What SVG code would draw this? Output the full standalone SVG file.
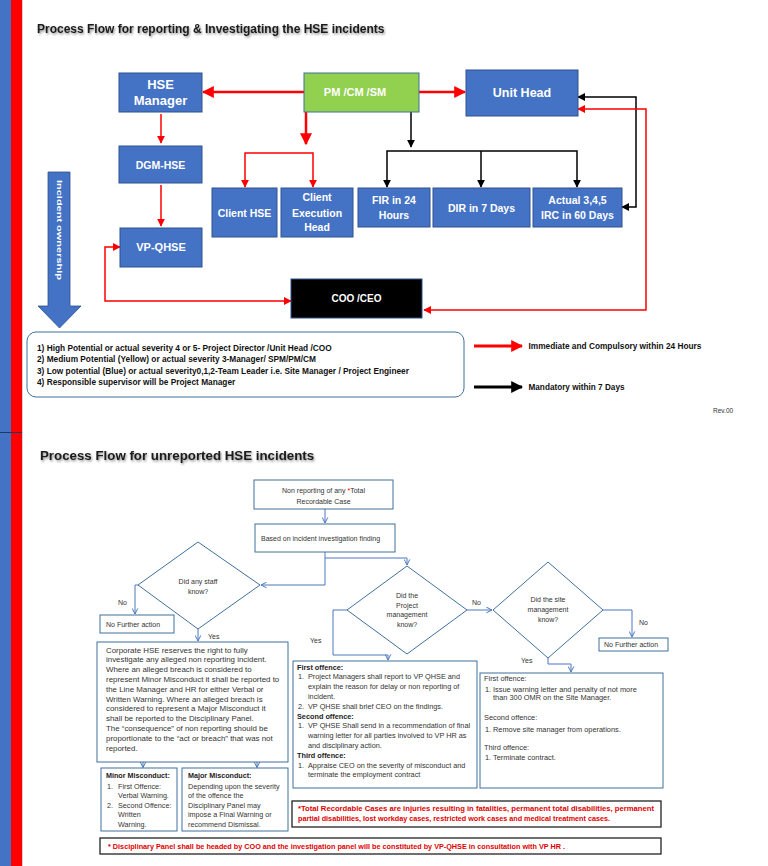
<svg xmlns="http://www.w3.org/2000/svg" width="768" height="866" viewBox="0 0 768 866">
<defs>
<style>
text{font-family:"Liberation Sans",Arial,sans-serif}
.bx{fill:#4472C4;stroke:#2F528F;stroke-width:1}
.bt{fill:#fff;font-weight:bold;text-anchor:middle}
.rl{stroke:#f00;fill:none;stroke-width:1.5}
.rt{stroke:#f00;fill:none;stroke-width:2.5}
.kl{stroke:#000;fill:none;stroke-width:1.5}
.fl{fill:#fff;stroke:#41719C;stroke-width:1}
.cn{fill:none;stroke:#4A76C0;stroke-width:1}
.s7{font-size:7px;fill:#333}
.s7b{font-size:7px;fill:#222;font-weight:bold}
.cp{font-size:7.9px;fill:#333}
.pb{font-size:7.3px;fill:#333}
.pbb{font-size:7.3px;fill:#222;font-weight:bold}
.sb{font-size:7.4px;fill:#333}
.mm{font-size:7.2px;fill:#333}
.mmb{font-size:7.2px;fill:#222;font-weight:bold}
.lg{font-size:8.3px;fill:#111;font-weight:bold}
.mid{text-anchor:middle}
.red{fill:#e00000;font-weight:bold;font-size:6.5px}
</style>
<filter id="sh" x="-5%" y="-30%" width="110%" height="170%"><feDropShadow dx="1" dy="1.5" stdDeviation="0.8" flood-color="#000" flood-opacity="0.45"/></filter>
<marker id="ar" viewBox="0 0 10 10" refX="9" refY="5" markerWidth="8" markerHeight="8" markerUnits="userSpaceOnUse" orient="auto-start-reverse"><path d="M0,0 L10,5 L0,10 z" fill="#f00"/></marker>
<marker id="arL" viewBox="0 0 10 10" refX="9" refY="5" markerWidth="12" markerHeight="12" markerUnits="userSpaceOnUse" orient="auto-start-reverse"><path d="M0,0 L10,5 L0,10 z" fill="#f00"/></marker>
<marker id="ak" viewBox="0 0 10 10" refX="9" refY="5" markerWidth="8" markerHeight="8" markerUnits="userSpaceOnUse" orient="auto-start-reverse"><path d="M0,0 L10,5 L0,10 z" fill="#000"/></marker>
<marker id="akL" viewBox="0 0 10 10" refX="9" refY="5" markerWidth="12" markerHeight="12" markerUnits="userSpaceOnUse" orient="auto-start-reverse"><path d="M0,0 L10,5 L0,10 z" fill="#000"/></marker>
<marker id="bv" viewBox="0 0 10 10" refX="9" refY="5" markerWidth="7" markerHeight="7" markerUnits="userSpaceOnUse" orient="auto"><path d="M1,1 L9,5 L1,9" fill="none" stroke="#4A76C0" stroke-width="1.4"/></marker>
</defs>
<rect width="768" height="866" fill="#fff"/>
<g id="bars">
<rect x="0" y="0" width="11" height="866" fill="#4472C4"/>
<rect x="11" y="0" width="11" height="866" fill="#f00"/>
<line x1="22.5" y1="0" x2="22.5" y2="866" stroke="#d0d0d0" stroke-width="1"/>
<line x1="0" y1="432.5" x2="22" y2="432.5" stroke="#1F3864" stroke-width="1"/>
</g>

<!-- TOP SECTION -->
<text x="37" y="33" font-size="12" font-weight="bold" fill="#1a1a1a" filter="url(#sh)">Process Flow for reporting &amp; Investigating the HSE incidents</text>

<g id="connectors-top">
<line class="rt" x1="304" y1="92" x2="203" y2="92" marker-end="url(#arL)"/>
<line class="rt" x1="419" y1="92" x2="465" y2="92" marker-end="url(#arL)"/>
<line class="rt" x1="306" y1="112" x2="306" y2="144" marker-end="url(#arL)"/>
<path class="rl" d="M245,187 V153 H313 V187" marker-start="url(#ar)" marker-end="url(#ar)"/>
<line class="kl" x1="411" y1="112" x2="411" y2="147" marker-end="url(#ak)"/>
<path class="kl" d="M387,187 V151 H577 V187" marker-start="url(#ak)" marker-end="url(#ak)"/>
<line class="kl" x1="481" y1="151" x2="481" y2="187" marker-end="url(#ak)"/>
<path class="kl" d="M622,207 H636 V97 H578" marker-start="url(#ak)" marker-end="url(#ak)"/>
<path class="rl" d="M578,109 H646 V310 H424" marker-start="url(#ar)" marker-end="url(#ar)"/>
<line class="rl" x1="161" y1="114" x2="161" y2="143" marker-end="url(#ar)"/>
<line class="rl" x1="161" y1="185" x2="161" y2="226" marker-end="url(#ar)"/>
<path class="rl" d="M120,247 H105 V301 H291" marker-start="url(#ar)" marker-end="url(#ar)"/>
</g>

<g id="hse-manager"><rect class="bx" x="119" y="73" width="83" height="39"/><text class="bt" x="160.5" y="89" font-size="13">HSE</text><text class="bt" x="160.5" y="105" font-size="13">Manager</text></g>
<g id="pm"><rect x="304" y="73" width="115" height="39" fill="#92D050" stroke="#41719C" stroke-width="1"/><text class="bt" x="355" y="96" font-size="11">PM /CM /SM</text></g>
<g id="unit-head"><rect class="bx" x="466" y="70" width="112" height="46"/><text class="bt" x="522" y="97" font-size="12.5">Unit Head</text></g>
<g id="dgm-hse"><rect class="bx" x="119" y="146" width="83" height="37"/><text class="bt" x="160.5" y="168.5" font-size="10.5">DGM-HSE</text></g>
<g id="vp-qhse"><rect class="bx" x="120" y="228" width="82" height="39"/><text class="bt" x="161" y="251" font-size="11">VP-QHSE</text></g>
<g id="client-hse"><rect class="bx" x="212" y="188" width="65" height="49"/><text class="bt" x="244.5" y="217" font-size="10.5">Client HSE</text></g>
<g id="client-exec"><rect class="bx" x="281" y="188" width="72" height="49"/><text class="bt" x="317" y="201" font-size="10.5">Client</text><text class="bt" x="317" y="217" font-size="10.5">Execution</text><text class="bt" x="317" y="231" font-size="10.5">Head</text></g>
<g id="fir"><rect class="bx" x="358" y="188" width="72" height="39"/><text class="bt" x="394" y="204" font-size="10.5">FIR in 24</text><text class="bt" x="394" y="219" font-size="10.5">Hours</text></g>
<g id="dir"><rect class="bx" x="433" y="188" width="97" height="39"/><text class="bt" x="481.5" y="211.5" font-size="10.5">DIR in 7 Days</text></g>
<g id="irc"><rect class="bx" x="533" y="188" width="89" height="39"/><text class="bt" x="577.5" y="204" font-size="10.5">Actual 3,4,5</text><text class="bt" x="577.5" y="219" font-size="10.5">IRC in 60 Days</text></g>
<g id="coo-ceo"><rect x="291" y="279" width="131" height="39" fill="#000" stroke="#2F528F" stroke-width="1"/><text class="bt" x="356.5" y="302" font-size="10">COO /CEO</text></g>

<g id="ownership-arrow">
<polygon points="48,172 70,172 70,306 81,306 59.5,328 38,306 48,306" fill="#4472C4" stroke="#2F528F" stroke-width="0.8"/>
<text transform="translate(59.5,230) rotate(90)" x="0" y="2.5" font-size="7.3" font-weight="bold" fill="#fff" text-anchor="middle" textLength="100" lengthAdjust="spacingAndGlyphs">Incident ownership</text>
</g>

<g id="legend">
<rect x="27" y="332" width="437" height="65" rx="9" fill="#fff" stroke="#41719C" stroke-width="1"/>
<text class="lg" x="37" y="351">1) High Potential or actual severity 4 or 5- Project Director /Unit Head /COO</text>
<text class="lg" x="37" y="362">2) Medium Potential (Yellow) or actual severity 3-Manager/ SPM/PM/CM</text>
<text class="lg" x="37" y="373.5">3) Low potential (Blue) or actual severity0,1,2-Team Leader i.e. Site Manager / Project Engineer</text>
<text class="lg" x="37" y="385">4) Responsible supervisor will be Project Manager</text>
<line x1="474" y1="346" x2="522" y2="346" stroke="#f00" stroke-width="3" marker-end="url(#arL)"/>
<text x="528.5" y="348.5" font-size="8.3" font-weight="bold" fill="#111">Immediate and Compulsory within 24 Hours</text>
<line x1="474" y1="387" x2="522" y2="387" stroke="#000" stroke-width="3" marker-end="url(#akL)"/>
<text x="528.5" y="389.5" font-size="8.2" font-weight="bold" fill="#111">Mandatory within 7 Days</text>
<text x="713" y="413" font-size="6.5" fill="#333">Rev.00</text>
</g>

<!-- BOTTOM SECTION -->
<text x="40" y="460" font-size="13.3" font-weight="bold" fill="#1a1a1a" filter="url(#sh)">Process Flow for unreported HSE incidents</text>

<g id="connectors-bottom">
<line class="cn" x1="325" y1="509" x2="325" y2="523" marker-end="url(#bv)"/>
<path class="cn" d="M325,552 V585 H261" marker-end="url(#bv)"/>
<path class="cn" d="M325,558 H407 V565" marker-end="url(#bv)"/>
<path class="cn" d="M138,585 H135 V614" marker-end="url(#bv)"/>
<line class="cn" x1="198" y1="629" x2="198" y2="641" marker-end="url(#bv)"/>
<line class="cn" x1="143" y1="762" x2="143" y2="767.5" marker-end="url(#bv)"/>
<line class="cn" x1="257" y1="762" x2="257" y2="767.5" marker-end="url(#bv)"/>
<line class="cn" x1="467" y1="610" x2="492" y2="610" marker-end="url(#bv)"/>
<path class="cn" d="M347,610 H333 V655 H388 V660" marker-end="url(#bv)"/>
<path class="cn" d="M603,610 H632 V637" marker-end="url(#bv)"/>
<path class="cn" d="M548,658 V664 H571 V672" marker-end="url(#bv)"/>
<text class="s7" x="118" y="605">No</text>
<text class="s7" x="208" y="639">Yes</text>
<text class="s7" x="472" y="605">No</text>
<text class="s7" x="310" y="643">Yes</text>
<text class="s7" x="639" y="625">No</text>
<text class="s7" x="521" y="663">Yes</text>
</g>

<g id="non-reporting"><rect class="fl" x="254" y="480" width="139" height="29"/><text class="s7 mid" x="323.5" y="493">Non reporting of any <tspan fill="#f00">*</tspan>Total</text><text class="s7 mid" x="323.5" y="504">Recordable Case</text></g>
<g id="based-on"><rect class="fl" x="255" y="524" width="140" height="28"/><text class="s7" x="261" y="540.5">Based on incident investigation finding</text></g>

<g id="d-staff"><polygon class="fl" points="198,542 260,585 198,629 138,585"/><text class="s7 mid" x="198" y="583.5">Did any staff</text><text class="s7 mid" x="198" y="594">know?</text></g>
<g id="nfa-1"><rect class="fl" x="100" y="615" width="74" height="18"/><text class="s7" x="106" y="626.5">No Further action</text></g>

<g id="corporate">
<rect class="fl" x="97" y="642" width="191" height="120"/>
<text class="cp" x="106" y="652.5">Corporate HSE reserves the right to fully</text>
<text class="cp" x="106" y="662.3">investigate any alleged non reporting incident.</text>
<text class="cp" x="106" y="672.1">Where an alleged breach is considered to</text>
<text class="cp" x="106" y="681.9">represent Minor Misconduct it shall be reported to</text>
<text class="cp" x="106" y="691.7">the Line Manager and HR for either Verbal or</text>
<text class="cp" x="106" y="701.5">Written Warning. Where an alleged breach is</text>
<text class="cp" x="106" y="711.3">considered to represent a Major Misconduct it</text>
<text class="cp" x="106" y="721.1">shall be reported to  the Disciplinary Panel.</text>
<text class="cp" x="106" y="730.9">The &#8220;consequence&#8221; of non reporting should be</text>
<text class="cp" x="106" y="740.7">proportionate to the &#8220;act or breach&#8221; that was not</text>
<text class="cp" x="106" y="750.5">reported.</text>
</g>

<g id="minor">
<rect class="fl" x="101" y="768" width="76" height="63"/>
<text class="mmb" x="106" y="777.5">Minor Misconduct:</text>
<text class="mm" x="107" y="788.5">1.</text><text class="mm" x="118" y="788.5">First Offence:</text>
<text class="mm" x="118" y="797.5">Verbal Warning.</text>
<text class="mm" x="107" y="807.5">2.</text><text class="mm" x="118" y="807.5">Second Offence:</text>
<text class="mm" x="118" y="816.5">Written</text>
<text class="mm" x="118" y="826.5">Warning.</text>
</g>
<g id="major">
<rect class="fl" x="182" y="768" width="106" height="63"/>
<text class="mmb" x="188" y="777.5">Major Misconduct:</text>
<text class="mm" x="188" y="788.5">Depending upon the severity</text>
<text class="mm" x="188" y="797.5">of the offence the</text>
<text class="mm" x="188" y="807.5">Disciplinary Panel may</text>
<text class="mm" x="188" y="816.5">impose a Final Warning or</text>
<text class="mm" x="188" y="826.5">recommend Dismissal.</text>
</g>

<g id="d-project"><polygon class="fl" points="407,566 467,610 407,654 347,610"/><text class="s7 mid" x="407" y="598">Did the</text><text class="s7 mid" x="407" y="607.5">Project</text><text class="s7 mid" x="407" y="617">management</text><text class="s7 mid" x="407" y="626.5">know?</text></g>

<g id="project-box">
<rect class="fl" x="293" y="661" width="184" height="127"/>
<text class="pbb" x="297" y="669.5">First offence:</text>
<text class="pb" x="298" y="679.3">1.</text><text class="pb" x="308" y="679.3">Project Managers shall report to VP QHSE and</text>
<text class="pb" x="308" y="689.1">explain the reason for delay or non reporting of</text>
<text class="pb" x="308" y="698.9">incident.</text>
<text class="pb" x="298" y="708.7">2.</text><text class="pb" x="308" y="708.7">VP QHSE shall brief CEO on the findings.</text>
<text class="pbb" x="297" y="718.5">Second offence:</text>
<text class="pb" x="298" y="728.3">1.</text><text class="pb" x="308" y="728.3">VP QHSE Shall send in a recommendation of final</text>
<text class="pb" x="308" y="738.1">warning letter for all parties involved to VP HR as</text>
<text class="pb" x="308" y="747.9">and disciplinary action.</text>
<text class="pbb" x="297" y="757.7">Third offence:</text>
<text class="pb" x="298" y="767.5">1.</text><text class="pb" x="308" y="767.5">Appraise CEO on the severity of misconduct and</text>
<text class="pb" x="308" y="777.3">terminate the employment contract</text>
</g>

<g id="d-site"><polygon class="fl" points="548,562 603,610 548,658 493,610"/><text class="s7 mid" x="548" y="602">Did the site</text><text class="s7 mid" x="548" y="612">management</text><text class="s7 mid" x="548" y="621.5">know?</text></g>
<g id="nfa-2"><rect class="fl" x="599" y="638" width="69" height="13"/><text class="s7" x="604" y="647" font-size="6.5">No Further action</text></g>

<g id="site-box">
<rect class="fl" x="480" y="673" width="183" height="115"/>
<text class="sb" x="484" y="680.5" fill="#222">First offence:</text>
<text class="sb" x="485" y="691.5">1.</text><text class="sb" x="493" y="691.5">Issue warning letter and penalty of not more</text>
<text class="sb" x="493" y="700">than 300 OMR on the Site Manager.</text>
<text class="sb" x="484" y="719.5" fill="#222">Second offence:</text>
<text class="sb" x="485" y="731.5">1.</text><text class="sb" x="493" y="731.5">Remove site manager from operations.</text>
<text class="sb" x="484" y="749.5" fill="#222">Third offence:</text>
<text class="sb" x="485" y="759.5">1.</text><text class="sb" x="493" y="759.5">Terminate contract.</text>
</g>

<g id="trc-note">
<rect x="292" y="801" width="369" height="26" fill="#fff" stroke="#222" stroke-width="1.3"/>
<text class="red" x="298" y="810.5" textLength="356" lengthAdjust="spacingAndGlyphs">*Total Recordable Cases are injuries resulting in fatalities, permanent total disabilities, permanent</text>
<text class="red" x="298" y="820.5" textLength="312" lengthAdjust="spacingAndGlyphs">partial disabilities, lost workday cases, restricted work cases and medical treatment cases.</text>
</g>
<g id="panel-note">
<rect x="100" y="838" width="561" height="16" fill="#fff" stroke="#222" stroke-width="1.3"/>
<text class="red" x="108" y="848.5" textLength="457" lengthAdjust="spacingAndGlyphs">* Disciplinary Panel shall be headed by COO and the investigation panel will be constituted by VP-QHSE in consultation with VP HR .</text>
</g>
</svg>
